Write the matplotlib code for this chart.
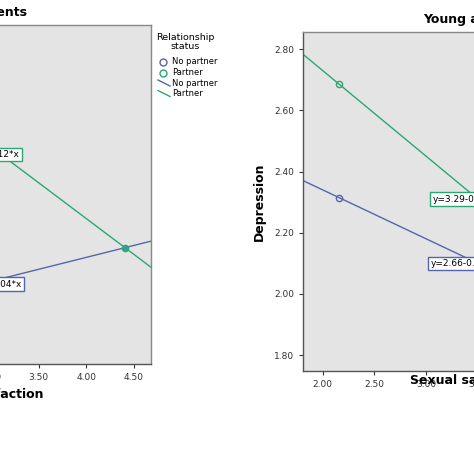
import matplotlib
matplotlib.use("Agg")
import matplotlib.pyplot as plt
import numpy as np

# data
xs_left = [1.83, 4.68]
green_left = (2.45, -0.12)   # intercept, slope (Partner, adolescents)
blue_left = (1.745, 0.04)    # No partner, adolescents
mean_left_x = 4.41
xs_right = [1.81, 4.68]
green_right = (3.29, -0.28)
blue_right = (2.66, -0.16)
mean_right_x = 2.16
right_yticks = [1.80, 2.00, 2.20, 2.40, 2.60, 2.80]
xticks = [2.00, 2.50, 3.00, 3.50, 4.00, 4.50]

W = H = 474
BLUE = "#5565ad"
GREEN = "#2aa872"
BG = "#e4e4e4"

fig = plt.figure(figsize=(4.74, 4.74), dpi=100)

def pos(l, t, r, b):
    return [l / W, 1 - b / H, (r - l) / W, (b - t) / H]

def style(ax):
    ax.set_facecolor(BG)
    for s in ax.spines.values():
        s.set_color("#555555"); s.set_linewidth(1.0)
    ax.spines['top'].set_color("#888888"); ax.spines['right'].set_color("#888888")
    ax.tick_params(labelsize=6.5, length=3, colors="#333333")
    ax.set_xticks(xticks)
    ax.set_xticklabels([f"{v:.2f}" for v in xticks])

def line(ax, xs, ab, c):
    xs = np.array(xs)
    ax.plot(xs, ab[0] + ab[1] * xs, color=c, lw=1.0)

# left panel
axL = fig.add_axes(pos(-120, 25, 151, 364))
style(axL)
axL.set_xlim(1.83, 4.68)
axL.set_ylim(1.726, 2.295)
axL.set_yticks([])
line(axL, xs_left, green_left, GREEN)
line(axL, xs_left, blue_left, BLUE)
axL.plot([mean_left_x], [green_left[0] + green_left[1] * mean_left_x], 'o', mfc='#3a9a9a', mec=GREEN, ms=4.5)
axL.text(3.30, green_left[0] + green_left[1] * 3.2 + 0.012, "y=2.45-0.12*x", ha='right', va='center', fontsize=6.5,
         bbox=dict(boxstyle='square,pad=0.25', fc='white', ec=GREEN, lw=1))
axL.text(3.32, 1.86, "y=1.75+0.04*x", ha='right', va='center', fontsize=6.5,
         bbox=dict(boxstyle='square,pad=0.25', fc='white', ec=BLUE, lw=1))
fig.text(43 / W, 1 - 395 / H, "Sexual satisfaction", ha='right', va='center', fontsize=9, fontweight='bold')
fig.text(28 / W, 1 - 12 / H, "Adolescents", ha='right', va='center', fontsize=9, fontweight='bold')

# legend (manual)
fig.text(185 / W, 1 - 42 / H, "Relationship\nstatus", ha='center', va='center', fontsize=6.8, linespacing=1.0)
for i, (lab, c) in enumerate([("No partner", BLUE), ("Partner", GREEN)]):
    y = 1 - (62 + i * 10.5) / H
    fig.lines.append(plt.Line2D([163 / W], [y], marker='o', mfc='none', mec=c, ms=5, transform=fig.transFigure))
    fig.text(172 / W, y, lab, fontsize=6, va='center')
for i, (lab, c) in enumerate([("No partner", BLUE), ("Partner", GREEN)]):
    y = 1 - (83 + i * 10.5) / H
    fig.lines.append(plt.Line2D([158 / W, 170 / W], [y + 3 / H, y - 3 / H], color=c, lw=1, transform=fig.transFigure))
    fig.text(172 / W, y, lab, fontsize=6, va='center')

# right panel
axR = fig.add_axes(pos(303, 32, 600, 371))
style(axR)
axR.set_xlim(1.81, 4.68)
axR.set_ylim(1.748, 2.856)
axR.set_yticks(right_yticks)
axR.set_yticklabels([f"{v:.2f}" for v in right_yticks])
line(axR, xs_right, green_right, GREEN)
line(axR, xs_right, blue_right, BLUE)
axR.plot([mean_right_x], [green_right[0] + green_right[1] * mean_right_x], 'o', mfc='none', mec=GREEN, ms=4.5)
axR.plot([mean_right_x], [blue_right[0] + blue_right[1] * mean_right_x], 'o', mfc='none', mec=BLUE, ms=4.5)
axR.text(3.06, 2.31, "y=3.29-0.28*x", ha='left', va='center', fontsize=6.5,
         bbox=dict(boxstyle='square,pad=0.25', fc='white', ec=GREEN, lw=1))
axR.text(3.04, 2.10, "y=2.66-0.16*x", ha='left', va='center', fontsize=6.5,
         bbox=dict(boxstyle='square,pad=0.25', fc='white', ec=BLUE, lw=1))
axR.set_ylabel("Depression", fontsize=9, fontweight='bold', labelpad=6)
fig.text(410 / W, 1 - 381 / H, "Sexual satisfaction", ha='left', va='center', fontsize=9, fontweight='bold')
fig.text(423 / W, 1 - 19 / H, "Young adults", fontsize=9, fontweight='bold', va='center')

fig.savefig("out.png", dpi=100, facecolor='white')
